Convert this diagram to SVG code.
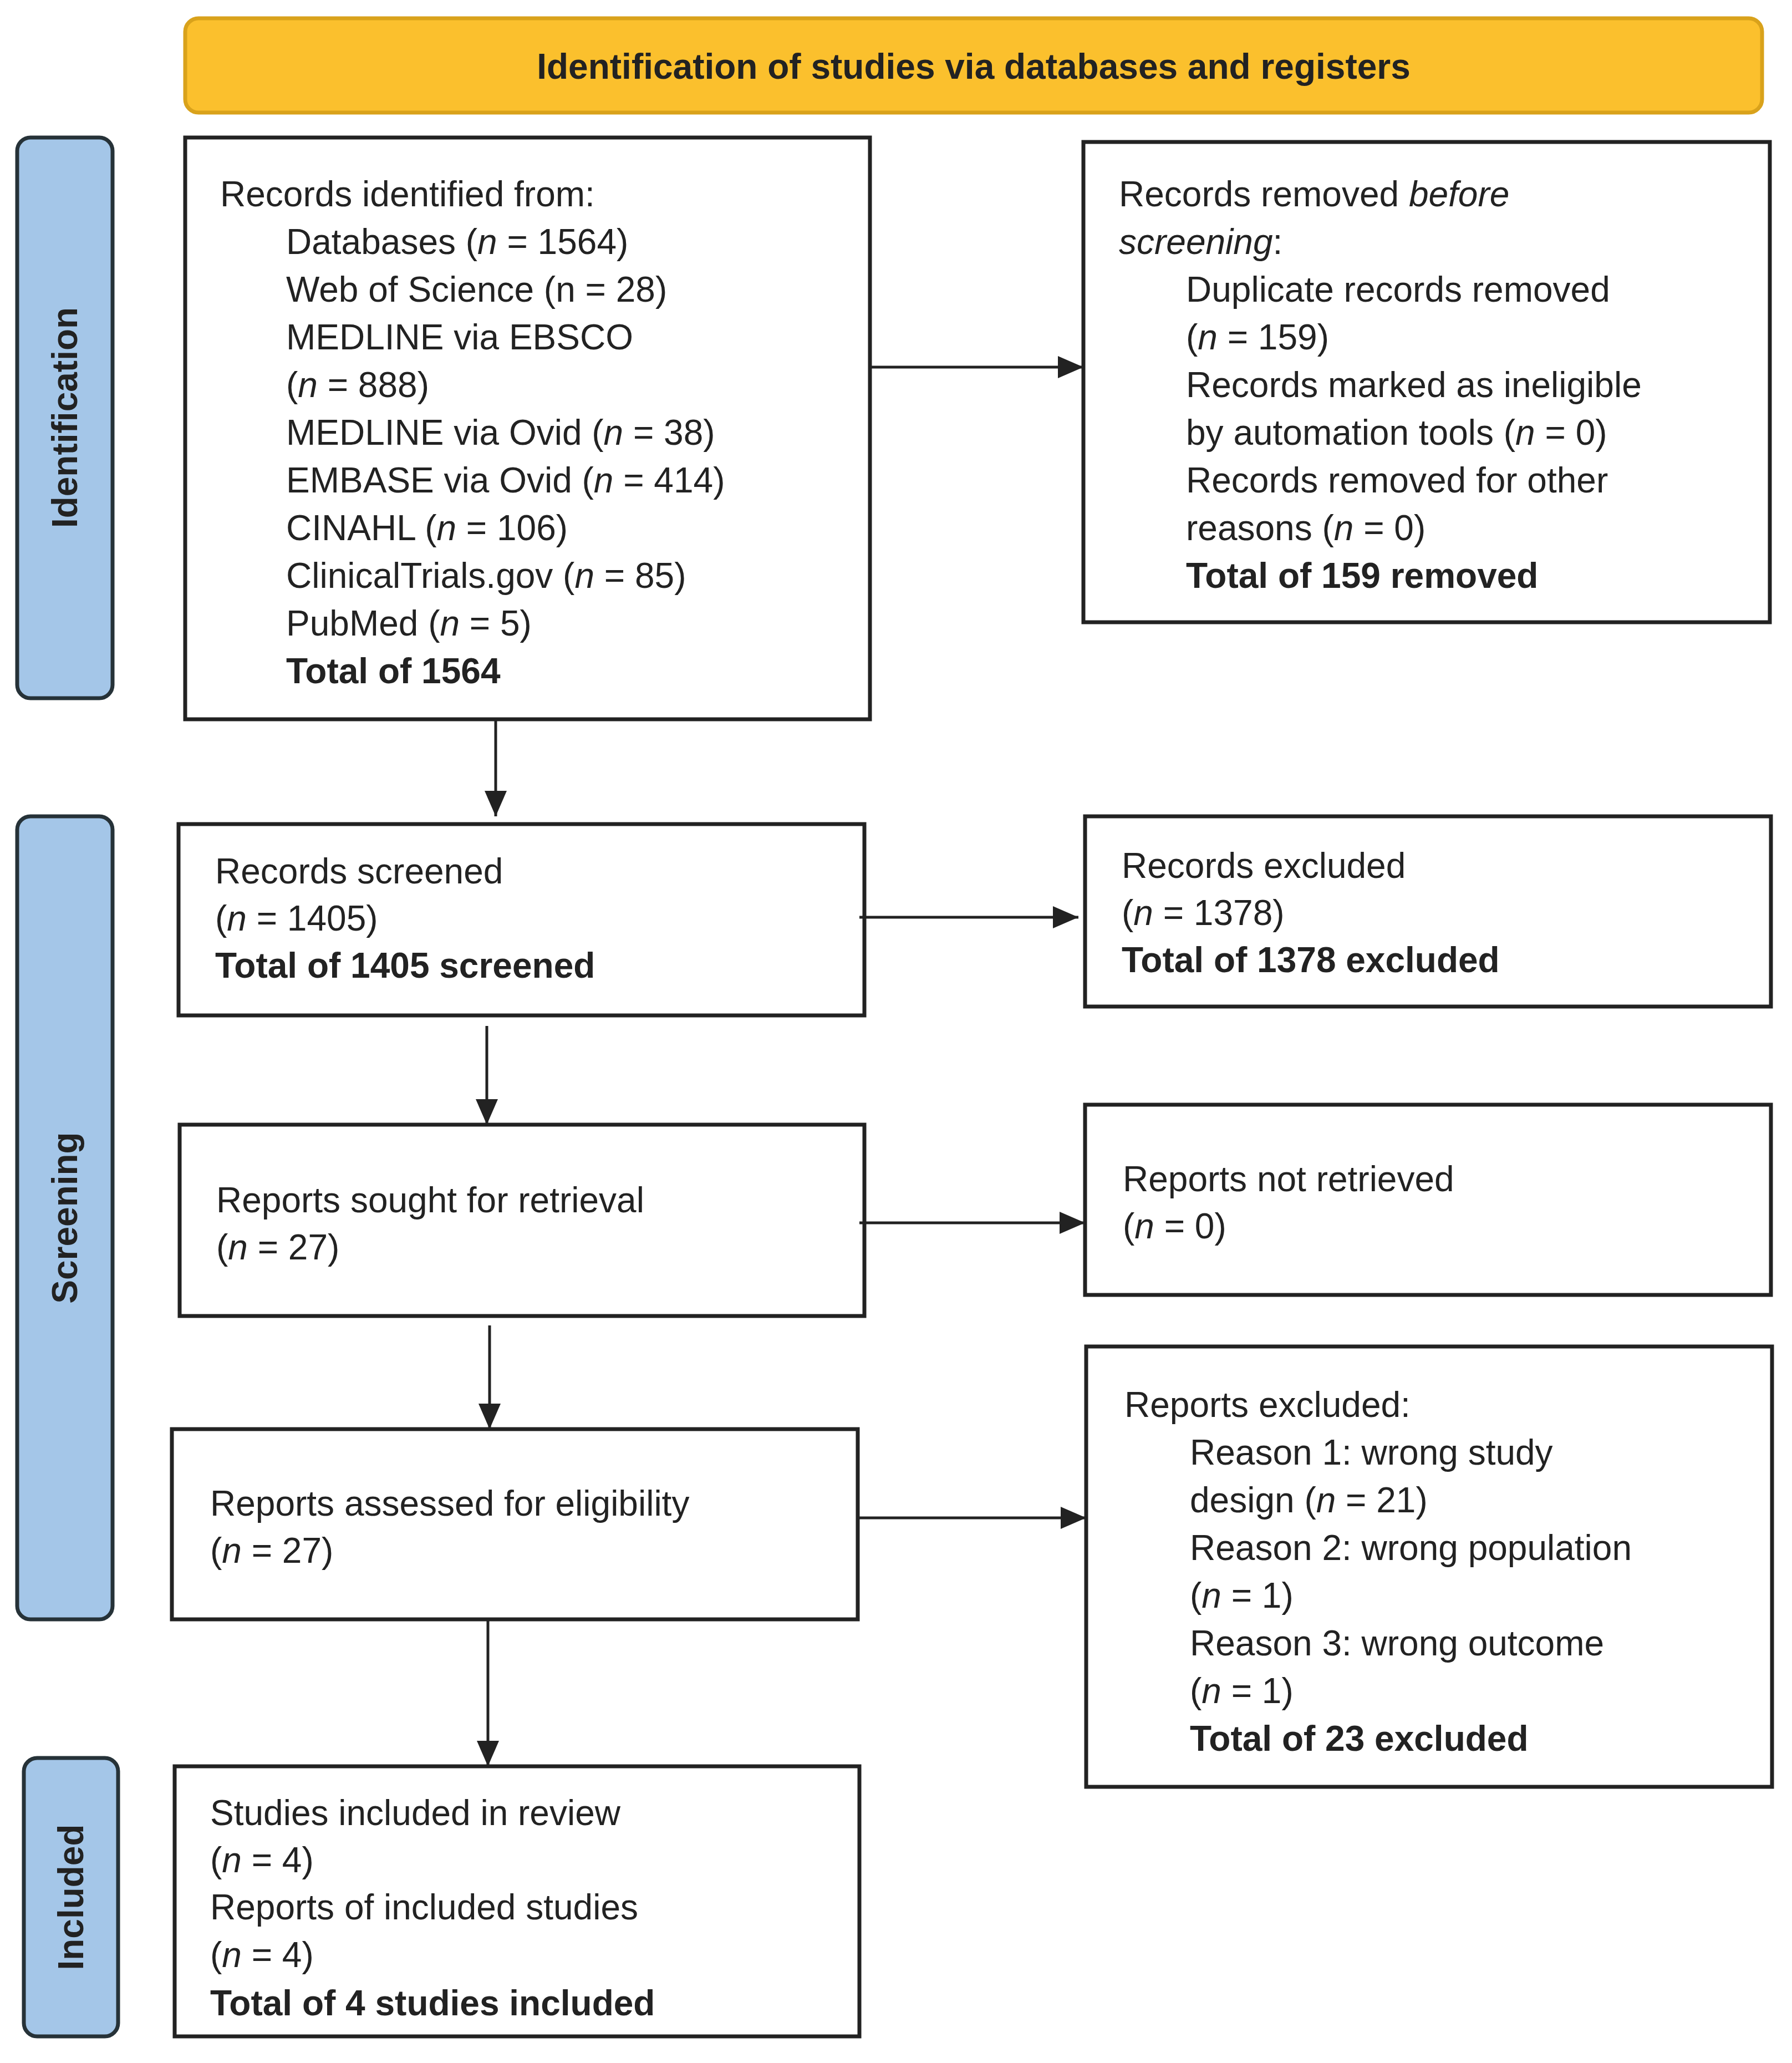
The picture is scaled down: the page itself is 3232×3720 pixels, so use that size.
<svg xmlns="http://www.w3.org/2000/svg" width="3232" height="3720" viewBox="0 0 3232 3720">
<style>
.box{fill:#fff;stroke:#222;stroke-width:7}
.side{fill:#a4c6e8;stroke:#263238;stroke-width:7}
.t{font-family:"Liberation Sans",Arial,sans-serif;font-size:64px;fill:#222}
.b{font-weight:bold}
.st{font-family:"Liberation Sans",Arial,sans-serif;font-size:64px;font-weight:bold;fill:#222;text-anchor:middle;dominant-baseline:central}
.c{stroke:#222;stroke-width:5;fill:none;marker-end:url(#ah)}
</style>
<defs>
<marker id="ah" markerUnits="userSpaceOnUse" markerWidth="46" markerHeight="40" refX="46" refY="20" orient="auto">
<path d="M0,0 L46,20 L0,40 Z" fill="#222"/>
</marker>
</defs>
<rect width="3232" height="3720" fill="#fff"/>
<g id="header">
<rect x="334" y="33" width="2844" height="170" rx="24" fill="#fbc02d" stroke="#d9a21b" stroke-width="7"/>
<text class="st" x="1756" y="120">Identification of studies via databases and registers</text>
</g>
<g id="side-identification"><rect class="side" x="31" y="248" width="172" height="1011" rx="24"/><text class="st" transform="translate(117,753) rotate(-90)">Identification</text></g>
<g id="side-screening"><rect class="side" x="31" y="1472" width="172" height="1448" rx="24"/><text class="st" transform="translate(117,2196) rotate(-90)">Screening</text></g>
<g id="side-included"><rect class="side" x="43" y="3170" width="170" height="502" rx="24"/><text class="st" transform="translate(128,3421) rotate(-90)">Included</text></g>

<g id="n1"><rect class="box" x="334" y="248" width="1235" height="1049"/>
<text class="t"><tspan x="397" y="372">Records identified from:</tspan>
<tspan x="516" y="458">Databases (<tspan font-style="italic">n</tspan> = 1564)</tspan>
<tspan x="516" y="544">Web of Science (n = 28)</tspan>
<tspan x="516" y="630">MEDLINE via EBSCO</tspan>
<tspan x="516" y="716">(<tspan font-style="italic">n</tspan> = 888)</tspan>
<tspan x="516" y="802">MEDLINE via Ovid (<tspan font-style="italic">n</tspan> = 38)</tspan>
<tspan x="516" y="888">EMBASE via Ovid (<tspan font-style="italic">n</tspan> = 414)</tspan>
<tspan x="516" y="974">CINAHL (<tspan font-style="italic">n</tspan> = 106)</tspan>
<tspan x="516" y="1060">ClinicalTrials.gov (<tspan font-style="italic">n</tspan> = 85)</tspan>
<tspan x="516" y="1146">PubMed (<tspan font-style="italic">n</tspan> = 5)</tspan>
<tspan x="516" y="1232" class="b">Total of 1564</tspan></text></g>

<g id="n2"><rect class="box" x="1954" y="256" width="1238" height="866"/>
<text class="t"><tspan x="2018" y="372">Records removed <tspan font-style="italic">before</tspan></tspan>
<tspan x="2018" y="458"><tspan font-style="italic">screening</tspan>:</tspan>
<tspan x="2139" y="544">Duplicate records removed</tspan>
<tspan x="2139" y="630">(<tspan font-style="italic">n</tspan> = 159)</tspan>
<tspan x="2139" y="716">Records marked as ineligible</tspan>
<tspan x="2139" y="802">by automation tools (<tspan font-style="italic">n</tspan> = 0)</tspan>
<tspan x="2139" y="888">Records removed for other</tspan>
<tspan x="2139" y="974">reasons (<tspan font-style="italic">n</tspan> = 0)</tspan>
<tspan x="2139" y="1060" class="b">Total of 159 removed</tspan></text></g>

<g id="n3"><rect class="box" x="322" y="1486" width="1237" height="345"/>
<text class="t"><tspan x="388" y="1593">Records screened</tspan>
<tspan x="388" y="1678">(<tspan font-style="italic">n</tspan> = 1405)</tspan>
<tspan x="388" y="1763" class="b">Total of 1405 screened</tspan></text></g>

<g id="n4"><rect class="box" x="1957" y="1472" width="1237" height="343"/>
<text class="t"><tspan x="2023" y="1583">Records excluded</tspan>
<tspan x="2023" y="1668">(<tspan font-style="italic">n</tspan> = 1378)</tspan>
<tspan x="2023" y="1753" class="b">Total of 1378 excluded</tspan></text></g>

<g id="n5"><rect class="box" x="324" y="2028" width="1235" height="345"/>
<text class="t"><tspan x="390" y="2186">Reports sought for retrieval</tspan>
<tspan x="390" y="2271">(<tspan font-style="italic">n</tspan> = 27)</tspan></text></g>

<g id="n6"><rect class="box" x="1957" y="1992" width="1237" height="343"/>
<text class="t"><tspan x="2025" y="2148">Reports not retrieved</tspan>
<tspan x="2025" y="2233">(<tspan font-style="italic">n</tspan> = 0)</tspan></text></g>

<g id="n7"><rect class="box" x="310" y="2577" width="1237" height="343"/>
<text class="t"><tspan x="379" y="2733">Reports assessed for eligibility</tspan>
<tspan x="379" y="2818">(<tspan font-style="italic">n</tspan> = 27)</tspan></text></g>

<g id="n8"><rect class="box" x="1959" y="2428" width="1237" height="794"/>
<text class="t"><tspan x="2028" y="2555">Reports excluded:</tspan>
<tspan x="2146" y="2641">Reason 1: wrong study</tspan>
<tspan x="2146" y="2727">design (<tspan font-style="italic">n</tspan> = 21)</tspan>
<tspan x="2146" y="2813">Reason 2: wrong population</tspan>
<tspan x="2146" y="2899">(<tspan font-style="italic">n</tspan> = 1)</tspan>
<tspan x="2146" y="2985">Reason 3: wrong outcome</tspan>
<tspan x="2146" y="3071">(<tspan font-style="italic">n</tspan> = 1)</tspan>
<tspan x="2146" y="3157" class="b">Total of 23 excluded</tspan></text></g>

<g id="n9"><rect class="box" x="315" y="3185" width="1235" height="487"/>
<text class="t"><tspan x="379" y="3291">Studies included in review</tspan>
<tspan x="379" y="3376">(<tspan font-style="italic">n</tspan> = 4)</tspan>
<tspan x="379" y="3461">Reports of included studies</tspan>
<tspan x="379" y="3547">(<tspan font-style="italic">n</tspan> = 4)</tspan>
<tspan x="379" y="3634" class="b">Total of 4 studies included</tspan></text></g>

<g id="connectors">
<line class="c" x1="1569" y1="662" x2="1954" y2="662"/>
<line class="c" x1="894" y1="1297" x2="894" y2="1472"/>
<line class="c" x1="1550" y1="1654" x2="1945" y2="1654"/>
<line class="c" x1="878" y1="1850" x2="878" y2="2028"/>
<line class="c" x1="1550" y1="2205" x2="1957" y2="2205"/>
<line class="c" x1="883" y1="2390" x2="883" y2="2577"/>
<line class="c" x1="1547" y1="2737" x2="1959" y2="2737"/>
<line class="c" x1="880" y1="2920" x2="880" y2="3185"/>
</g>
</svg>
